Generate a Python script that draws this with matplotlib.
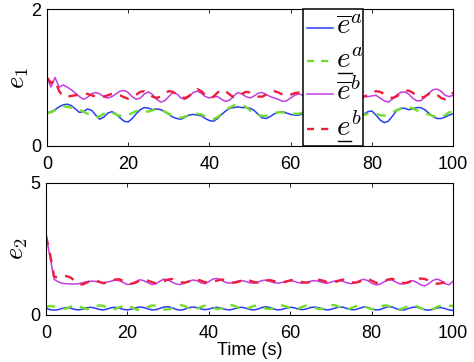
import matplotlib
matplotlib.use("Agg")
import matplotlib.pyplot as plt
from matplotlib.patches import Rectangle
from matplotlib.lines import Line2D

plt.rcParams['font.family'] = ['Liberation Sans', 'DejaVu Sans']
plt.rcParams['mathtext.fontset'] = 'cm'

time = list(range(0, 101))

# e1 panel
e1_upper_a = [0.48, 0.50, 0.53, 0.57, 0.60, 0.61, 0.59, 0.54, 0.49, 0.50, 0.54,
              0.52, 0.45, 0.39, 0.42, 0.48, 0.50, 0.47, 0.41, 0.36, 0.35,
              0.40, 0.47, 0.53, 0.56, 0.55, 0.53, 0.54, 0.53, 0.50, 0.46,
              0.42, 0.40, 0.39, 0.42, 0.45, 0.46, 0.45, 0.44, 0.40, 0.37,
              0.36, 0.40, 0.46, 0.51, 0.55, 0.56, 0.57, 0.56, 0.56, 0.55,
              0.52, 0.46, 0.41, 0.40, 0.43, 0.47, 0.49, 0.50, 0.48, 0.46,
              0.45, 0.45, 0.47, 0.51, 0.54, 0.53, 0.48, 0.43, 0.40, 0.42,
              0.46, 0.50, 0.52, 0.50, 0.47, 0.45, 0.44, 0.46, 0.50, 0.51,
              0.45, 0.38, 0.34, 0.36, 0.43, 0.51, 0.55, 0.55, 0.53, 0.54,
              0.56, 0.56, 0.53, 0.48, 0.43, 0.40, 0.40, 0.42, 0.45, 0.47]
e1_lower_a = [0.48, 0.49, 0.52, 0.56, 0.58, 0.57, 0.56, 0.55, 0.53, 0.50, 0.47,
              0.44, 0.42, 0.43, 0.47, 0.50, 0.49, 0.46, 0.44, 0.43, 0.45,
              0.48, 0.51, 0.52, 0.51, 0.50, 0.52, 0.54, 0.53, 0.50, 0.47,
              0.44, 0.42, 0.41, 0.43, 0.45, 0.46, 0.47, 0.46, 0.43, 0.40,
              0.39, 0.42, 0.47, 0.52, 0.56, 0.59, 0.61, 0.60, 0.57, 0.52,
              0.48, 0.45, 0.44, 0.44, 0.46, 0.48, 0.49, 0.49, 0.48, 0.47,
              0.47, 0.47, 0.49, 0.52, 0.54, 0.53, 0.50, 0.46, 0.44, 0.45,
              0.48, 0.51, 0.52, 0.50, 0.47, 0.45, 0.44, 0.45, 0.47, 0.48,
              0.47, 0.45, 0.44, 0.46, 0.49, 0.52, 0.54, 0.56, 0.57, 0.55,
              0.52, 0.49, 0.47, 0.46, 0.44, 0.42, 0.42, 0.45, 0.49, 0.50]
e1_upper_b = [1.00, 0.86, 1.00, 0.86, 0.89, 0.86, 0.82, 0.77, 0.72, 0.68, 0.71,
              0.76, 0.78, 0.76, 0.72, 0.70, 0.72, 0.76, 0.80, 0.81, 0.78,
              0.72, 0.68, 0.70, 0.76, 0.79, 0.75, 0.68, 0.64, 0.66, 0.72,
              0.78, 0.76, 0.70, 0.68, 0.72, 0.78, 0.80, 0.77, 0.72, 0.70,
              0.72, 0.72, 0.68, 0.65, 0.67, 0.73, 0.78, 0.76, 0.72, 0.70,
              0.73, 0.77, 0.78, 0.75, 0.72, 0.70, 0.68, 0.65, 0.66, 0.70,
              0.74, 0.76, 0.74, 0.70, 0.68, 0.70, 0.75, 0.78, 0.76, 0.72,
              0.69, 0.70, 0.74, 0.77, 0.76, 0.73, 0.72, 0.72, 0.72, 0.73,
              0.74, 0.70, 0.66, 0.64, 0.68, 0.74, 0.78, 0.79, 0.76, 0.70,
              0.66, 0.66, 0.71, 0.77, 0.82, 0.83, 0.80, 0.74, 0.72, 0.74]
e1_lower_b = [1.00, 0.92, 0.96, 0.80, 0.72, 0.72, 0.73, 0.74, 0.75, 0.76, 0.76,
              0.74, 0.72, 0.71, 0.72, 0.74, 0.76, 0.76, 0.74, 0.71, 0.69,
              0.71, 0.75, 0.79, 0.80, 0.77, 0.72, 0.70, 0.72, 0.77, 0.80,
              0.79, 0.75, 0.71, 0.70, 0.73, 0.79, 0.83, 0.80, 0.74, 0.70,
              0.72, 0.78, 0.82, 0.80, 0.75, 0.71, 0.72, 0.76, 0.79, 0.78,
              0.74, 0.72, 0.72, 0.75, 0.79, 0.80, 0.78, 0.75, 0.73, 0.75,
              0.77, 0.78, 0.76, 0.74, 0.73, 0.75, 0.78, 0.79, 0.77, 0.74,
              0.73, 0.74, 0.76, 0.76, 0.74, 0.72, 0.71, 0.72, 0.74, 0.78,
              0.80, 0.79, 0.76, 0.72, 0.70, 0.72, 0.76, 0.80, 0.81, 0.78,
              0.73, 0.70, 0.72, 0.76, 0.78, 0.75, 0.70, 0.68, 0.72, 0.78]

# e2 panel
e2_upper_a = [0.25, 0.20, 0.18, 0.20, 0.25, 0.28, 0.26, 0.21, 0.19, 0.22, 0.27,
              0.29, 0.26, 0.21, 0.19, 0.22, 0.27, 0.29, 0.26, 0.21, 0.19,
              0.22, 0.27, 0.30, 0.28, 0.23, 0.19, 0.20, 0.25, 0.30, 0.31,
              0.27, 0.21, 0.18, 0.21, 0.27, 0.30, 0.28, 0.23, 0.20, 0.22,
              0.27, 0.29, 0.26, 0.21, 0.19, 0.22, 0.27, 0.29, 0.26, 0.21,
              0.19, 0.22, 0.28, 0.31, 0.28, 0.22, 0.19, 0.21, 0.26, 0.29,
              0.27, 0.22, 0.20, 0.23, 0.28, 0.30, 0.27, 0.22, 0.19, 0.21,
              0.26, 0.30, 0.29, 0.24, 0.20, 0.20, 0.25, 0.30, 0.29, 0.23,
              0.19, 0.20, 0.26, 0.31, 0.30, 0.24, 0.19, 0.19, 0.24, 0.29,
              0.30, 0.25, 0.20, 0.18, 0.21, 0.26, 0.28, 0.24, 0.19, 0.17]
e2_lower_a = [0.30, 0.34, 0.32, 0.26, 0.22, 0.24, 0.31, 0.36, 0.34, 0.27, 0.22,
              0.24, 0.31, 0.36, 0.35, 0.28, 0.22, 0.22, 0.29, 0.35, 0.36,
              0.30, 0.22, 0.18, 0.22, 0.30, 0.36, 0.35, 0.28, 0.21, 0.20,
              0.26, 0.34, 0.38, 0.34, 0.26, 0.21, 0.23, 0.30, 0.35, 0.33,
              0.27, 0.22, 0.24, 0.31, 0.37, 0.36, 0.29, 0.23, 0.22, 0.28,
              0.34, 0.36, 0.31, 0.24, 0.22, 0.27, 0.33, 0.36, 0.32, 0.25,
              0.21, 0.24, 0.31, 0.36, 0.34, 0.27, 0.22, 0.24, 0.31, 0.37,
              0.37, 0.30, 0.23, 0.21, 0.26, 0.33, 0.37, 0.34, 0.27, 0.22,
              0.23, 0.30, 0.36, 0.35, 0.28, 0.22, 0.21, 0.27, 0.34, 0.37,
              0.33, 0.26, 0.20, 0.18, 0.22, 0.30, 0.36, 0.38, 0.35, 0.34]
e2_upper_b = [3.00, 2.20, 1.35, 1.25, 1.20, 1.18, 1.17, 1.17, 1.18, 1.22, 1.26,
              1.28, 1.27, 1.24, 1.22, 1.24, 1.28, 1.32, 1.30, 1.22, 1.15,
              1.18, 1.26, 1.33, 1.30, 1.22, 1.15, 1.18, 1.28, 1.36, 1.32,
              1.24, 1.17, 1.15, 1.20, 1.27, 1.32, 1.30, 1.22, 1.18, 1.26,
              1.36, 1.38, 1.32, 1.24, 1.20, 1.23, 1.28, 1.30, 1.27, 1.22,
              1.20, 1.24, 1.30, 1.32, 1.27, 1.22, 1.20, 1.23, 1.28, 1.30,
              1.27, 1.22, 1.20, 1.23, 1.28, 1.30, 1.27, 1.22, 1.20, 1.24,
              1.29, 1.31, 1.27, 1.21, 1.18, 1.22, 1.30, 1.35, 1.30, 1.20,
              1.14, 1.16, 1.25, 1.33, 1.32, 1.24, 1.17, 1.18, 1.26, 1.30,
              1.24, 1.14, 1.10, 1.18, 1.30, 1.36, 1.30, 1.18, 1.14, 1.28]
e2_lower_b = [3.00, 2.30, 1.45, 1.40, 1.45, 1.47, 1.42, 1.30, 1.18, 1.15, 1.22,
              1.30, 1.32, 1.26, 1.20, 1.22, 1.28, 1.34, 1.35, 1.28, 1.20,
              1.18, 1.22, 1.30, 1.34, 1.30, 1.24, 1.20, 1.22, 1.28, 1.34,
              1.36, 1.30, 1.24, 1.22, 1.26, 1.32, 1.34, 1.30, 1.24, 1.22,
              1.24, 1.30, 1.34, 1.32, 1.26, 1.22, 1.24, 1.30, 1.33, 1.30,
              1.25, 1.22, 1.25, 1.30, 1.32, 1.28, 1.24, 1.22, 1.26, 1.31,
              1.33, 1.29, 1.24, 1.22, 1.25, 1.30, 1.33, 1.30, 1.24, 1.21,
              1.24, 1.30, 1.34, 1.31, 1.25, 1.22, 1.26, 1.33, 1.36, 1.30,
              1.22, 1.20, 1.26, 1.34, 1.37, 1.32, 1.24, 1.20, 1.23, 1.30,
              1.36, 1.38, 1.36, 1.30, 1.22, 1.18, 1.20, 1.24, 1.22, 1.18]

# mathtext has no \underline, so the "lower" labels get a bar drawn under them
labels = [r'$\overline{e}^a$', r'$e^a$', r'$\overline{e}^b$', r'$e^b$']
underlined = [False, True, False, True]
colors = ['#2a3ef0', '#72dd2c', '#c23ee0', '#ec1e3c']
styles = ['-', '--', '-', '--']
widths = [1.1, 1.7, 1.1, 1.7]

fig = plt.figure(figsize=(4.74, 3.62), dpi=100)
ax1 = fig.add_axes([0.099, 0.597, 0.857, 0.378])
ax2 = fig.add_axes([0.097, 0.130, 0.859, 0.365])

panels = [
    (ax1, [e1_upper_a, e1_lower_a, e1_upper_b, e1_lower_b], 2, r'$e_1$'),
    (ax2, [e2_upper_a, e2_lower_a, e2_upper_b, e2_lower_b], 5, r'$e_2$'),
]

for ax, series, ymax, ylab in panels:
    for ys, c, ls, lw in zip(series, colors, styles, widths):
        if ls == '--':
            ax.plot(time, ys, color=c, lw=lw, dashes=(4, 3.5))
        else:
            ax.plot(time, ys, color=c, lw=lw)
    ax.set_xlim(0, 100)
    ax.set_ylim(0, ymax)
    ax.set_xticks([0, 20, 40, 60, 80, 100])
    ax.set_yticks([0, ymax])
    ax.tick_params(direction='in', top=True, right=True, labelsize=13,
                   length=3, width=0.6)
    ax.tick_params(axis='x', pad=7)
    ax.tick_params(axis='y', pad=4)
    for sp in ax.spines.values():
        sp.set_linewidth(0.8)
    ax.set_ylabel(ylab, fontsize=19, labelpad=0)

ax2.set_xlabel('Time (s)', fontsize=13, labelpad=0)

# legend: white box spanning the full height of the top panel
ax1.add_patch(Rectangle((0.631, 0.0), 0.146, 1.0, transform=ax1.transAxes,
                        facecolor='white', edgecolor='black', lw=1.1,
                        zorder=5, clip_on=False))
row_y = [0.865, 0.620, 0.380, 0.125]
leg_texts = []
for yy, lab, c, ls, lw in zip(row_y, labels, colors, styles, widths):
    h = Line2D([0.641, 0.704], [yy, yy], color=c, lw=lw, transform=ax1.transAxes, zorder=6)
    if ls == '--':
        h.set_dashes((3, 3))
    ax1.add_line(h)
    base = yy - 0.051
    t = ax1.text(0.712, base, lab, transform=ax1.transAxes, fontsize=21,
                 va='baseline', ha='left', zorder=6)
    leg_texts.append((t, base))

fig.canvas.draw()
for (t, base), under in zip(leg_texts, underlined):
    if not under:
        continue
    bb = t.get_window_extent().transformed(ax1.transAxes.inverted())
    x0 = bb.x0 + 0.004
    x1 = bb.x0 + 0.56 * bb.width
    ax1.add_line(Line2D([x0, x1], [base - 0.036, base - 0.036], color='black', lw=1.0,
                        transform=ax1.transAxes, zorder=7))

fig.savefig('out.png', dpi=100)
